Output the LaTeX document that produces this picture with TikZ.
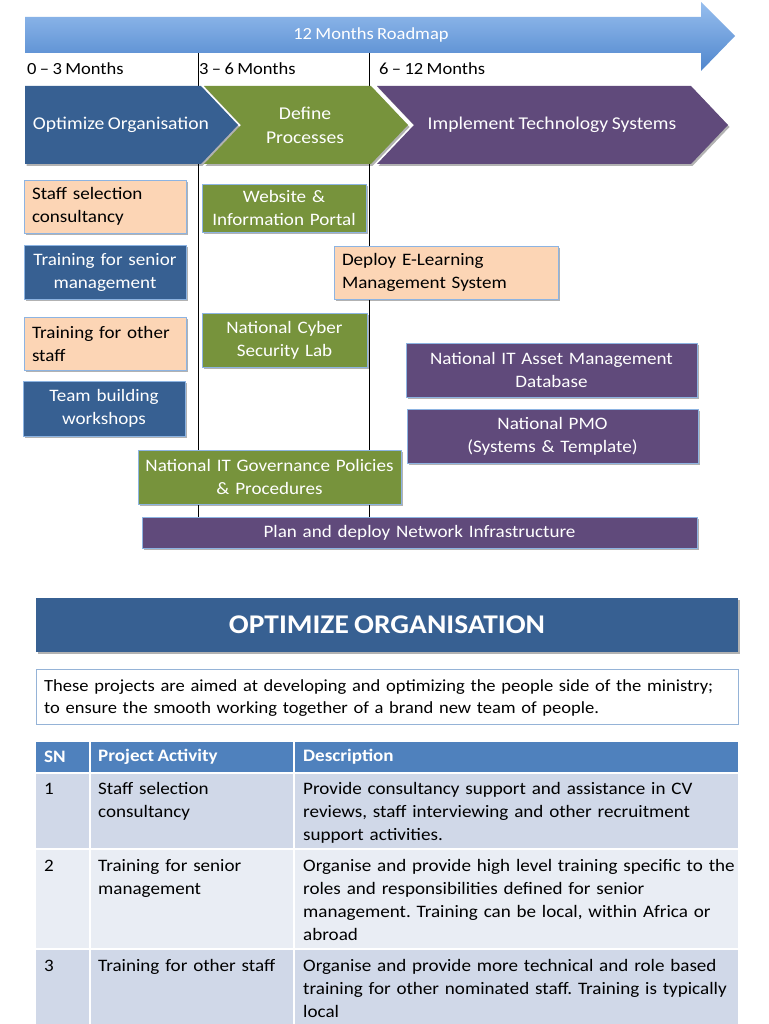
\documentclass[tikz,border=0pt]{standalone}
\usepackage{fontspec}
\setmainfont{Carlito}[FakeStretch=1.09, WordSpace=0.8]
\usetikzlibrary{shadows}
\frenchspacing
\definecolor{cblue}{RGB}{55,96,146}
\definecolor{cgreen}{RGB}{119,147,60}
\definecolor{cpurple}{RGB}{96,74,123}
\definecolor{cpeach}{RGB}{252,213,181}
\definecolor{cedge}{RGB}{141,180,226}
\definecolor{hdr}{RGB}{79,129,189}
\definecolor{rowa}{RGB}{208,216,232}
\definecolor{rowb}{RGB}{233,237,244}
\definecolor{arrtop}{RGB}{150,190,238}
\definecolor{arrbot}{RGB}{80,134,205}
\definecolor{descedge}{RGB}{149,179,215}
\begin{document}
\frenchspacing
\begin{tikzpicture}[x=1pt,y=-1pt,
  every node/.style={font=\fontsize{17.5}{23}\selectfont, inner sep=0pt},
  bshadow/.style={drop shadow={shadow xshift=1.5pt,shadow yshift=-2pt,opacity=0.3,fill=black}},
  pbox/.style={draw=cedge, line width=0.8pt, fill=cpeach, text=black, align=left, inner xsep=8pt, bshadow},
  bbox/.style={draw=cedge, line width=0.8pt, fill=cblue, text=white, align=center, inner xsep=4pt, bshadow},
  gbox/.style={draw=cedge, line width=0.8pt, fill=cgreen, text=white, align=center, inner xsep=4pt, bshadow},
  ubox/.style={draw=cedge, line width=0.8pt, fill=cpurple, text=white, align=center, inner xsep=4pt, bshadow},
  chev/.style={bshadow},
  mlabel/.style={anchor=west, text=black, font=\fontsize{17}{20}\selectfont},
  ctext/.style={text=white, align=center, font=\fontsize{18}{24}\selectfont},
  vline/.style={draw=black, line width=0.8pt},
  ttext/.style={anchor=base west, align=left, text=black},
  htext/.style={anchor=west, text=white, font=\fontsize{17.5}{23}\selectfont\bfseries}
]
\useasboundingbox (0,0) rectangle (768,1024);
\fill[white] (0,0) rectangle (768,1024);

% ---------- big roadmap arrow ----------
\shade[top color=arrtop, bottom color=arrbot]
  (25,17) -- (701,17) -- (701,2) -- (735,36) -- (701,71) -- (701,53) -- (25,53) -- cycle;
\node[text=white, font=\fontsize{17}{20}\selectfont] (road) at (371,35) {12 Months Roadmap};

% ---------- vertical separators ----------
\coordinate (l1t) at (198,53);
\coordinate (l1b) at (198,517);
\coordinate (l2t) at (369,53);
\coordinate (l2b) at (369,517);
\draw[vline] (l1t) -- (l1b);
\draw[vline] (l2t) -- (l2b);

\node[mlabel] (m1) at (27,69) {0 – 3 Months};
\node[mlabel] (m2) at (199,69) {3 – 6 Months};
\node[mlabel] (m3) at (379,69) {6 – 12 Months};

% ---------- chevrons ----------
\fill[cblue, chev] (25,86) -- (201,86) -- (238,125) -- (201,164) -- (25,164) -- cycle;
\fill[cgreen, chev] (204,86) -- (371,86) -- (408,125) -- (371,164) -- (204,164) -- (241,125) -- cycle;
\fill[cpurple, chev] (377,86) -- (691,86) -- (728,125) -- (691,164) -- (377,164) -- (414,125) -- cycle;
\node[ctext] (c1) at (121,125) {Optimize Organisation};
\node[ctext] (c2) at (305,125) {Define\\Processes};
\node[ctext] (c3) at (552,125) {Implement Technology Systems};

% ---------- activity boxes ----------
\node[pbox, text width=146pt, minimum height=53pt] (staff) at (105,206.5) {Staff selection\\consultancy};
\node[bbox, text width=154pt, minimum height=54pt] (senior) at (105,272) {Training for senior\\management};
\node[pbox, text width=146pt, minimum height=53pt] (other) at (105,343.5) {Training for other\\staff};
\node[bbox, text width=154pt, minimum height=55pt] (team) at (104,408.5) {Team building\\workshops};
\node[gbox, text width=156pt, minimum height=48pt] (web) at (284,208) {Website \&\\Information Portal};
\node[pbox, text width=208pt, minimum height=53pt] (elearn) at (446,272.5) {Deploy E-Learning\\Management System};
\node[gbox, text width=157pt, minimum height=54pt] (cyber) at (284.5,340) {National Cyber\\Security Lab};
\node[ubox, text width=283pt, minimum height=54pt] (asset) at (551.5,370) {National IT Asset Management\\Database};
\node[ubox, text width=283pt, minimum height=54pt] (pmo) at (552.5,436) {National PMO\\(Systems \& Template)};
\node[gbox, text width=255pt, minimum height=54pt] (gov) at (269.5,477) {National IT Governance Policies\\\& Procedures};
\node[ubox, text width=547pt, minimum height=31pt] (net) at (419.5,532.5) {Plan and deploy Network Infrastructure};

% ---------- title bar ----------
\fill[cblue, bshadow] (36,598) rectangle (738,652);
\node[text=white, font=\fontsize{27}{30}\selectfont\bfseries] (title) at (387,625) {OPTIMIZE ORGANISATION};

% ---------- description box ----------
\draw[draw=descedge, line width=0.9pt, fill=white] (36,669) rectangle (738,724);
\node[ttext, text width=690pt, font=\fontsize{17}{22}\selectfont] (desc) at (44,691)
  {These projects are aimed at developing and optimizing the people side of the ministry;\\to ensure the smooth working together of a brand new team of people.};

% ---------- table ----------
\fill[hdr] (36,742) rectangle (89,772);
\fill[hdr] (91,742) rectangle (293,772);
\fill[hdr] (295,742) rectangle (738,772);
\fill[rowa] (36,774) rectangle (89,848);
\fill[rowa] (91,774) rectangle (293,848);
\fill[rowa] (295,774) rectangle (738,848);
\fill[rowb] (36,850) rectangle (89,948);
\fill[rowb] (91,850) rectangle (293,948);
\fill[rowb] (295,850) rectangle (738,948);
\fill[rowa] (36,950) rectangle (89,1030);
\fill[rowa] (91,950) rectangle (293,1030);
\fill[rowa] (295,950) rectangle (738,1030);

\node[htext] (h1) at (44,757) {SN};
\node[htext] (h2) at (98,757) {Project Activity};
\node[htext] (h3) at (303,757) {Description};

\node[ttext, text width=40pt] (r1a) at (44,794) {1};
\node[ttext, text width=192pt] (r1b) at (98,794) {Staff selection\\consultancy};
\node[ttext, text width=434pt] (r1c) at (303,794) {Provide consultancy support and assistance in CV\\reviews, staff interviewing and other recruitment\\support activities.};

\node[ttext, text width=40pt] (r2a) at (44,871) {2};
\node[ttext, text width=192pt] (r2b) at (98,871) {Training for senior\\management};
\node[ttext, text width=434pt] (r2c) at (303,871) {Organise and provide high level training specific to the\\roles and responsibilities defined for senior\\management. Training can be local, within Africa or\\abroad};

\node[ttext, text width=40pt] (r3a) at (44,971) {3};
\node[ttext, text width=192pt] (r3b) at (98,971) {Training for other staff};
\node[ttext, text width=434pt] (r3c) at (303,971) {Organise and provide more technical and role based\\training for other nominated staff. Training is typically\\local};
\end{tikzpicture}
\end{document}
